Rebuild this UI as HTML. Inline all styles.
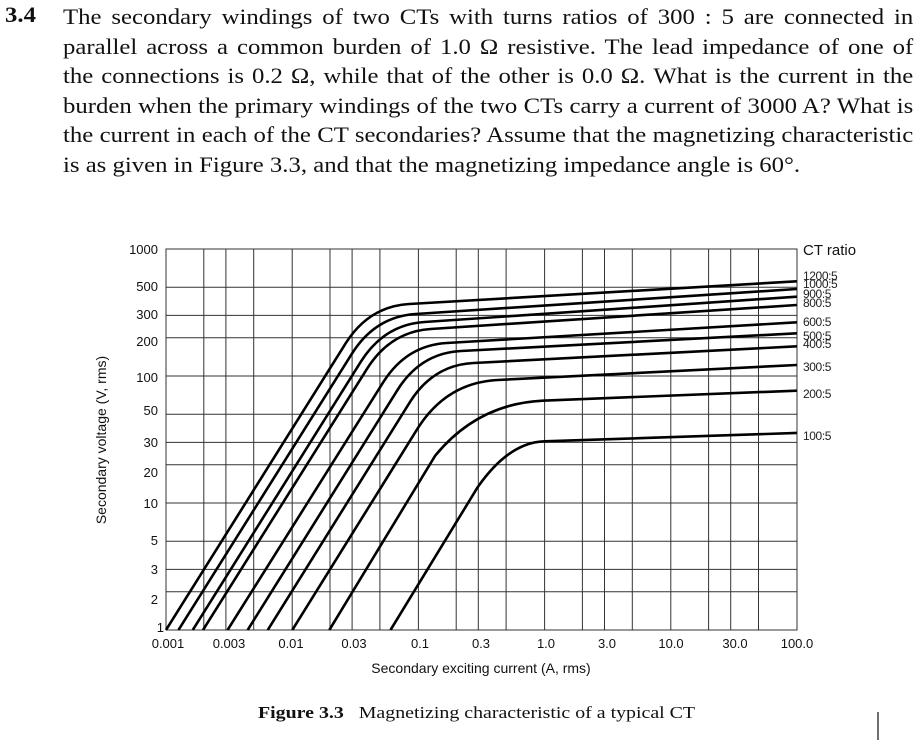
<!DOCTYPE html>
<html><head><meta charset="utf-8"><style>
body{margin:0;width:920px;height:743px;background:#fff;overflow:hidden;position:relative;font-family:"Liberation Serif",serif;color:#111}
.num{position:absolute;left:5px;top:2px;font-weight:bold;font-size:22.5px;transform:scaleX(1.1);transform-origin:0 0}
.p{position:absolute;left:63px;width:773px;font-size:22.5px;line-height:29.6px;top:2px;transform:scaleX(1.1);transform-origin:0 0}
.l{display:block;text-align:justify;text-align-last:justify;white-space:nowrap;height:29.6px}
.l.last{text-align-last:left}
.cap{position:absolute;left:258px;top:703px;font-size:17px;white-space:nowrap;transform:scaleX(1.17);transform-origin:0 0}
svg{position:absolute;left:0;top:0}
</style></head><body>
<div class="num">3.4</div>
<div class="p">
<span class="l">The secondary windings of two CTs with turns ratios of 300 : 5 are connected in</span>
<span class="l">parallel across a common burden of 1.0 Ω resistive. The lead impedance of one of</span>
<span class="l">the connections is 0.2 Ω, while that of the other is 0.0 Ω. What is the current in the</span>
<span class="l">burden when the primary windings of the two CTs carry a current of 3000 A? What is</span>
<span class="l">the current in each of the CT secondaries? Assume that the magnetizing characteristic</span>
<span class="l last">is as given in Figure 3.3, and that the magnetizing impedance angle is 60°.</span>
</div>
<div class="cap"><b>Figure 3.3</b>&nbsp;&nbsp; Magnetizing characteristic of a typical CT</div>
<svg width="920" height="743" viewBox="0 0 920 743" font-family="Liberation Sans, sans-serif">
<g stroke="#333" stroke-width="1" fill="none">
<rect x="166" y="249" width="631" height="381"/>
<path d="M203.8 249V630M225.9 249V630M253.7 249V630M292.2 249V630M330 249V630M352.1 249V630M379.9 249V630M418.4 249V630M456.2 249V630M478.3 249V630M506.1 249V630M544.6 249V630M582.4 249V630M604.5 249V630M632.3 249V630M670.8 249V630M708.6 249V630M730.7 249V630M758.5 249V630"/>
<path d="M166 287.2H797M166 315.4H797M166 337.8H797M166 376H797M166 414.2H797M166 442.4H797M166 464.8H797M166 503H797M166 541.2H797M166 569.4H797M166 591.8H797"/>
</g>
<g transform="translate(166,249) scale(0.4464,0.3333) translate(-37,-45)" fill="none" stroke="#000" stroke-width="2.6" stroke-linejoin="round">
<path vector-effect="non-scaling-stroke" d="M37 1188L440 327Q492 217 582 210L1450 142"/>
<path vector-effect="non-scaling-stroke" d="M65 1188L454 358Q506 248 596 240L1450 165"/>
<path vector-effect="non-scaling-stroke" d="M97 1188L474 382Q526 272 616 264L1450 188"/>
<path vector-effect="non-scaling-stroke" d="M120 1188L488 403Q540 293 630 285L1450 213"/>
<path vector-effect="non-scaling-stroke" d="M175 1188L524 444Q576 334 666 327L1450 265"/>
<path vector-effect="non-scaling-stroke" d="M220 1188L556 467Q608 357 698 351L1450 298"/>
<path vector-effect="non-scaling-stroke" d="M265 1188L584 503Q636 393 726 387L1450 337"/>
<path vector-effect="non-scaling-stroke" d="M320 1188L600 585Q665 446 780 438L1450 393"/>
<path vector-effect="non-scaling-stroke" d="M403 1188L640 665Q735 510 880 500L1450 470"/>
<path vector-effect="non-scaling-stroke" d="M540 1188L735 760Q805 625 885 622L1450 597"/>
</g>
<g font-size="13" fill="#111" text-anchor="end">
<text x="158" y="254">1000</text><text x="158" y="291">500</text><text x="158" y="319">300</text>
<text x="158" y="346">200</text><text x="158" y="382">100</text><text x="158" y="415">50</text>
<text x="158" y="447">30</text><text x="158" y="477">20</text><text x="158" y="508">10</text>
<text x="158" y="545">5</text><text x="158" y="574">3</text><text x="158" y="604">2</text>
<text x="164" y="632">1</text>
</g>
<g font-size="13" fill="#111" text-anchor="middle">
<text x="168" y="648">0.001</text><text x="229" y="648">0.003</text><text x="291" y="648">0.01</text>
<text x="354" y="648">0.03</text><text x="420" y="648">0.1</text><text x="481" y="648">0.3</text>
<text x="546" y="648">1.0</text><text x="607" y="648">3.0</text><text x="671" y="648">10.0</text>
<text x="735" y="648">30.0</text><text x="797" y="648">100.0</text>
<text x="481" y="673" font-size="14">Secondary exciting current (A, rms)</text>
</g>
<text transform="translate(106,440) rotate(-90)" font-size="14" text-anchor="middle" fill="#111">Secondary voltage (V, rms)</text>
<text x="803" y="255" font-size="15" fill="#111">CT ratio</text>
<g font-size="12" fill="#222" letter-spacing="-0.4">
<text x="803" y="280">1200:5</text><text x="803" y="288">1000:5</text><text x="803" y="298">900:5</text>
<text x="803" y="307">800:5</text><text x="803" y="326">600:5</text><text x="803" y="340">500:5</text>
<text x="803" y="348">400:5</text><text x="803" y="371">300:5</text><text x="803" y="398">200:5</text>
<text x="803" y="440">100:5</text>
</g>
<line x1="878" y1="712" x2="878" y2="740" stroke="#111" stroke-width="1.2"/>
</svg>
</body></html>
